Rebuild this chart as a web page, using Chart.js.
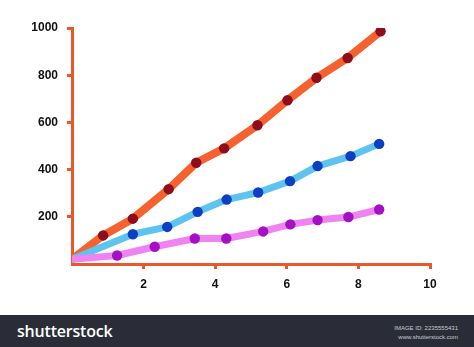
<!DOCTYPE html>
<html>
<head>
<meta charset="utf-8">
<script src="https://cdn.jsdelivr.net/npm/chart.js@4/dist/chart.umd.min.js"></script>
<style>
  html, body { margin: 0; padding: 0; background: #ffffff; }
  #wrap { position: relative; width: 474px; height: 347px; overflow: hidden; }
  #c { position: absolute; left: 0; top: 0; }
  #footer { position: absolute; left: 0; top: 315px; width: 474px; height: 32px; background: #2a2d37; }
  #brand { position: absolute; left: 17px; top: 5px; color: #ffffff; font-family: "Open Sans", "DejaVu Sans", sans-serif; font-size: 16px; font-weight: 600; letter-spacing: -0.2px; }
  #imgid { position: absolute; right: 16px; top: 9px; color: #c9ccd2; font-family: "Liberation Sans", Arial, sans-serif; font-size: 6px; text-align: right; line-height: 9px; }
</style>
</head>
<body>
<div id="wrap">
  <canvas id="c" width="474" height="347"></canvas>
  <div id="footer">
    <div id="brand">shutterstock</div>
    <div id="imgid">IMAGE ID: 2235555431<br>www.shutterstock.com</div>
  </div>
</div>
<script>
// Data
const redX   = [0, 0.87, 1.70, 2.70, 3.47, 4.25, 5.18, 6.02, 6.83, 7.70, 8.62];
const redY   = [20, 121, 192, 317, 429, 490, 588, 694, 789, 873, 986];
const blueX  = [0, 1.70, 2.66, 3.51, 4.32, 5.20, 6.09, 6.86, 7.78, 8.58];
const blueY  = [20, 126, 157, 221, 273, 303, 351, 415, 457, 509];
const pinkX  = [0, 1.26, 2.31, 3.43, 4.31, 5.34, 6.10, 6.86, 7.72, 8.58];
const pinkY  = [20, 36, 73, 108, 108, 138, 168, 186, 199, 231];
const xTicks = [2, 4, 6, 8, 10];
const yTicks = [200, 400, 600, 800, 1000];

const AXIS = '#e8582b';

function pts(xs, ys) { return xs.map((x, i) => ({ x: x, y: ys[i] })); }
function radii(xs) { return xs.map((x, i) => i === 0 ? 0 : 5.2); }

const ctx = document.getElementById('c').getContext('2d');
new Chart(ctx, {
  type: 'line',
  data: {
    datasets: [
      {
        label: 'red', data: pts(redX, redY), order: 3,
        borderColor: '#f5612f', borderWidth: 8,
        pointBackgroundColor: '#8e0c1c', pointBorderWidth: 0, pointRadius: radii(redX),
        borderJoinStyle: 'round', borderCapStyle: 'round', tension: 0
      },
      {
        label: 'blue', data: pts(blueX, blueY), order: 2,
        borderColor: '#5ec3ee', borderWidth: 7,
        pointBackgroundColor: '#0c3fc2', pointBorderWidth: 0, pointRadius: radii(blueX),
        borderJoinStyle: 'round', borderCapStyle: 'round', tension: 0
      },
      {
        label: 'pink', data: pts(pinkX, pinkY), order: 1,
        borderColor: '#f083f2', borderWidth: 7,
        pointBackgroundColor: '#a411c4', pointBorderWidth: 0, pointRadius: radii(pinkX),
        borderJoinStyle: 'round', borderCapStyle: 'round', tension: 0
      }
    ]
  },
  options: {
    responsive: false,
    animation: false,
    layout: { padding: { left: 0, right: 44, top: 28, bottom: 53 } },
    plugins: { legend: { display: false }, tooltip: { enabled: false } },
    scales: {
      x: {
        type: 'linear', min: 0, max: 10,
        afterBuildTicks: (s) => { s.ticks = xTicks.map(v => ({ value: v })); },
        afterFit: (s) => { s.height = 30; },
        border: { display: true, color: AXIS, width: 3 },
        grid: { display: true, drawOnChartArea: false, drawTicks: true, tickLength: 5, color: AXIS, lineWidth: 3 },
        ticks: { color: '#111111', padding: 8, font: { family: 'Liberation Sans', size: 12, weight: 'bold' }, maxRotation: 0,
                 callback: (v) => String(v) }
      },
      y: {
        type: 'linear', min: 0, max: 1000,
        afterBuildTicks: (s) => { s.ticks = yTicks.map(v => ({ value: v })); },
        afterFit: (s) => { s.width = 72; },
        border: { display: true, color: AXIS, width: 3 },
        grid: { display: true, drawOnChartArea: false, drawTicks: true, tickLength: 5, color: AXIS, lineWidth: 3 },
        ticks: { color: '#111111', padding: 9, font: { family: 'Liberation Sans', size: 12, weight: 'bold' },
                 callback: (v) => String(v) }
      }
    }
  }
});
</script>
</body>
</html>
